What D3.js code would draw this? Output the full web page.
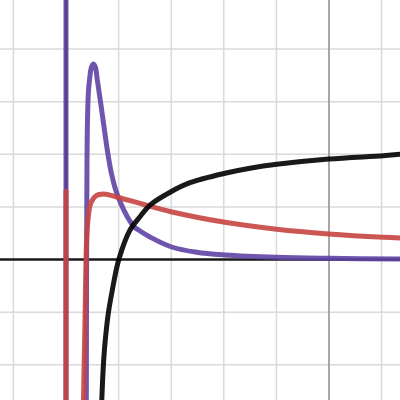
<!DOCTYPE html>
<html>
<head>
<meta charset="utf-8">
<script src="https://cdn.jsdelivr.net/npm/d3@7"></script>
<style>
  html, body { margin: 0; padding: 0; background: #fff; }
  svg { display: block; }
</style>
</head>
<body>
<div class="chart"></div>
<script>
// grid positions (graph units)
const gridX = [-1, 0, 1, 2, 3, 4, 5, 6];
const gridY = [-2, -1, 0, 1, 2, 3, 4];
const majorX = [5];

// curves as [x, y] in graph units
const purpleLeft = [[0, 5.1], [0, -2.8]];
const purpleRight = [
    [0.386, -2.8], [0.39, -0.77], [0.394, 0.618], [0.399, 1.892], [0.413, 2.842],
    [0.428, 3.222], [0.451, 3.451], [0.485, 3.66], [0.519, 3.717], [0.557, 3.66],
    [0.595, 3.413], [0.66, 2.97], [0.722, 2.525], [0.785, 2.082], [0.85, 1.702],
    [0.945, 1.321], [1.04, 1.068], [1.165, 0.814], [1.293, 0.624], [1.407, 0.542],
    [1.597, 0.428], [1.996, 0.243], [2.485, 0.137], [3.023, 0.086], [4.006, 0.042],
    [4.994, 0.023], [6.35, 0.01]
];
const redLeft = [[0, 1.3], [0, -2.8]];
const redRight = [
    [0.329, -2.8], [0.361, -1.15], [0.38, -0.01], [0.399, 0.504], [0.428, 0.846],
    [0.47, 1.068], [0.565, 1.207], [0.722, 1.245], [0.975, 1.183], [1.293, 1.099],
    [1.483, 1.046], [1.996, 0.909], [3.023, 0.707], [4.006, 0.574], [4.994, 0.485],
    [6.032, 0.422], [6.35, 0.409]
];
const blackCurve = [
    [0.675, -2.8], [0.709, -2.038], [0.741, -1.593], [0.804, -1.023], [0.869, -0.643],
    [1.004, 0], [1.217, 0.561], [1.407, 0.814], [1.597, 1.036], [1.996, 1.289],
    [2.357, 1.46], [3.023, 1.639], [3.498, 1.734], [4.006, 1.81], [4.994, 1.911],
    [6.032, 1.973], [6.35, 2.0]
];

const width = 400, height = 400;

const x = d3.scaleLinear().domain([-1.255, 6.35]).range([0, width]);
const y = d3.scaleLinear().domain([-2.67, 4.933]).range([height, 0]);

const svg = d3.select('.chart')
    .append('svg')
    .attr('width', width)
    .attr('height', height);

// minor grid
svg.append('g').selectAll('line')
    .data(gridX)
    .enter()
    .append('line')
    .attr('x1', d => x(d)).attr('x2', d => x(d))
    .attr('y1', 0).attr('y2', height)
    .attr('stroke', '#dadada')
    .attr('stroke-width', 1.5);

svg.append('g').selectAll('line')
    .data(gridY)
    .enter()
    .append('line')
    .attr('x1', 0).attr('x2', width)
    .attr('y1', d => y(d)).attr('y2', d => y(d))
    .attr('stroke', '#dadada')
    .attr('stroke-width', 1.5);

// major grid
svg.append('g').selectAll('line')
    .data(majorX)
    .enter()
    .append('line')
    .attr('x1', d => x(d)).attr('x2', d => x(d))
    .attr('y1', 0).attr('y2', height)
    .attr('stroke', '#949494')
    .attr('stroke-width', 1.5);

// axes
svg.append('line')
    .attr('x1', 0).attr('x2', width)
    .attr('y1', y(0)).attr('y2', y(0))
    .attr('stroke', '#1a1a1a')
    .attr('stroke-width', 2.5);
svg.append('line')
    .attr('x1', x(0)).attr('x2', x(0))
    .attr('y1', 0).attr('y2', height)
    .attr('stroke', '#1a1a1a')
    .attr('stroke-width', 2.5);

const line = d3.line()
    .x(d => x(d[0]))
    .y(d => y(d[1]))
    .curve(d3.curveCatmullRom.alpha(0.5));

const curves = [
    { pts: purpleLeft, color: '#6042a6' },
    { pts: purpleRight, color: '#6042a6' },
    { pts: redLeft, color: '#c74440' },
    { pts: redRight, color: '#c74440' },
    { pts: blackCurve, color: '#000000' }
];

svg.append('g').selectAll('path')
    .data(curves)
    .enter()
    .append('path')
    .attr('d', d => line(d.pts))
    .attr('fill', 'none')
    .attr('stroke', d => d.color)
    .attr('stroke-opacity', 0.9)
    .attr('stroke-width', 5)
    .attr('stroke-linecap', 'round')
    .attr('stroke-linejoin', 'round');
</script>
</body>
</html>
